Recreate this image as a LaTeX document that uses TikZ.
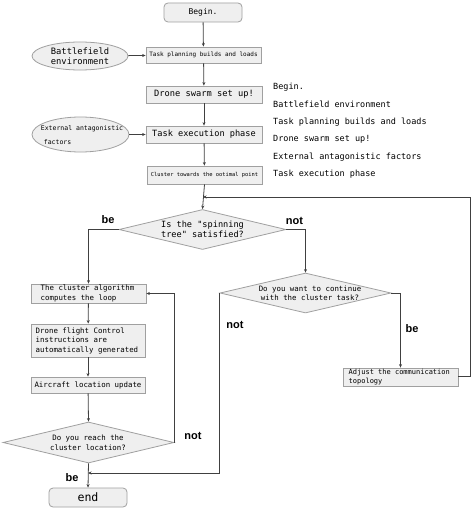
\documentclass[tikz,border=0pt]{standalone}
\usepackage{fontspec}
\setmainfont{DejaVu Sans Mono}
\newfontfamily\plainmono{DejaVu Sans Mono}
\newfontfamily\lblfont{Liberation Sans}
\usetikzlibrary{shapes.geometric,arrows.meta}
\definecolor{boxfill}{HTML}{EFEFEF}
\definecolor{boxline}{HTML}{A0A0A0}
\definecolor{conn}{HTML}{404040}
\tikzset{
  box/.style={draw=boxline,fill=boxfill,inner sep=0pt,line width=0.8pt,text=black},
  rbox/.style={box,rounded corners=4pt},
  ell/.style={box,ellipse},
  dia/.style={box,diamond},
  txt/.style={inner sep=0pt,text=black,align=center},
  lbl/.style={inner sep=0pt,font=\lblfont\bfseries\fontsize{11}{11}\selectfont,text=black},
  leg/.style={inner sep=0pt,anchor=west,font=\fontsize{8.5}{9}\selectfont,text=black},
  arr/.style={draw=conn,line width=0.8pt,-{Stealth[length=3.5pt,width=3pt]}},
  ln/.style={draw=conn,line width=0.8pt},
}
\begin{document}
\begin{tikzpicture}[x=1pt,y=-1pt]
\useasboundingbox[fill=white] (0,0) rectangle (474,511);
% top column
\node[rbox,minimum width=78,minimum height=19,font=\fontsize{8}{8}\selectfont] (begin) at (203,12.5) {Begin.};
\node[box,minimum width=115,minimum height=16,font=\fontsize{6}{6}\selectfont] (plan) at (203.5,55) {Task planning builds and loads};
\node[ell,minimum width=96,minimum height=28,align=center,font=\fontsize{8.8}{9.5}\selectfont] (env) at (80,56) {Battlefield\\environment};
\node[box,minimum width=116,minimum height=17,font=\fontsize{8.7}{8.7}\selectfont] (swarm) at (204,94.5) {Drone swarm set up!};
\node[box,minimum width=116,minimum height=17,font=\fontsize{8.6}{8.6}\selectfont] (exec) at (204,134.5) {Task execution phase};
\node[ell,minimum width=97,minimum height=35] (ext) at (80.5,134.5) {};
\node[txt,align=left,font=\fontsize{6.5}{14}\selectfont] (extt) at (82,135.5) {External antagonistic\\\hspace{3pt}factors};
\node[box,minimum width=115,minimum height=18,font=\fontsize{5.4}{5.4}\selectfont] (clus) at (204.5,175) {Cluster towards the ootimal point};
% legend
\node[leg] (l1) at (273,87) {Begin.};
\node[leg] (l2) at (273,104.5) {Battlefield environment};
\node[leg] (l3) at (273,122) {Task planning builds and loads};
\node[leg] (l4) at (273,139) {Drone swarm set up!};
\node[leg] (l5) at (273,157) {External antagonistic factors};
\node[leg] (l6) at (273,174) {Task execution phase};
% diamonds
\node[dia,minimum width=167,minimum height=40] (d1) at (202.5,229.5) {};
\node[txt,font=\plainmono\fontsize{8.6}{10}\selectfont] (d1t) at (202.5,229.5) {Is the "spinning\\tree" satisfied?};
\node[dia,minimum width=171,minimum height=40] (d2) at (305.5,293) {};
\node[txt,font=\fontsize{7.4}{9.5}\selectfont] (d2t) at (310,293) {Do you want to continue\\with the cluster task?};
\node[dia,minimum width=171,minimum height=41] (d3) at (88.5,442.5) {};
\node[txt,font=\fontsize{7.4}{9.5}\selectfont] (d3t) at (88,442.5) {Do you reach the\\cluster location?};
% left column
\node[box,minimum width=115,minimum height=19] (alg) at (88.5,293.5) {};
\node[txt,align=left,anchor=west,font=\fontsize{7.4}{9.5}\selectfont] (algt) at (40.5,293.5) {The cluster algorithm\\computes the loop};
\node[box,minimum width=114,minimum height=33] (flt) at (88,340.5) {};
\node[txt,align=left,anchor=west,font=\fontsize{7.4}{9.5}\selectfont] (fltt) at (35.5,340.5) {Drone flight Control\\ instructions are\\automatically generated};
\node[box,minimum width=114,minimum height=16,font=\fontsize{7.4}{7.4}\selectfont] (loc) at (88,385) {Aircraft location update};
\node[rbox,minimum width=78,minimum height=19,font=\fontsize{11.6}{11.6}\selectfont] (end) at (88,497.5) {end};
% right box
\node[box,minimum width=115,minimum height=18] (adj) at (400.5,377) {};
\node[txt,align=left,anchor=west,font=\fontsize{7}{9.5}\selectfont] (adjt) at (348.5,377) {Adjust the communication\\topology};
% coordinates
\coordinate (j1) at (203,197);
\coordinate (j2) at (88,473);
\coordinate (c1) at (470,376);
\coordinate (c2) at (470,197);
% connectors
\draw[arr] (begin) -- (plan);
\draw[arr] (env) -- (plan);
\draw[arr] (plan) -- (swarm);
\draw[arr] (swarm) -- (exec);
\draw[arr] (ext) -- (exec);
\draw[arr] (exec) -- (clus);
\draw[arr] (clus.south) -- (d1.north);
\draw[arr] (d1.west) -| (alg.north);
\draw[arr] (d1.east) -| (d2.north);
\draw[arr] (alg) -- (flt);
\draw[arr] (flt) -- (loc);
\draw[arr] (loc) -- (d3.north);
\draw[arr] (d3.east) -- (d3.east |- alg.east) -- (alg.east);
\draw[arr] (d3.south) -- (end.north);
\draw[arr] (d2.west) -- (d2.west |- j2) -- (j2);
\draw[arr] (d2.east) -| (adj.north);
\draw[ln] (adj.east |- c1) -- (c1) -- (c2);
\draw[arr] (c2) -- (j1);
% labels
\node[lbl] (be1) at (108,220) {be};
\node[lbl] (not1) at (294.5,221) {not};
\node[lbl] (not2) at (235,325) {not};
\node[lbl] (be2) at (412,329) {be};
\node[lbl] (not3) at (193,436) {not};
\node[lbl] (be3) at (72,478) {be};
\end{tikzpicture}
\end{document}
